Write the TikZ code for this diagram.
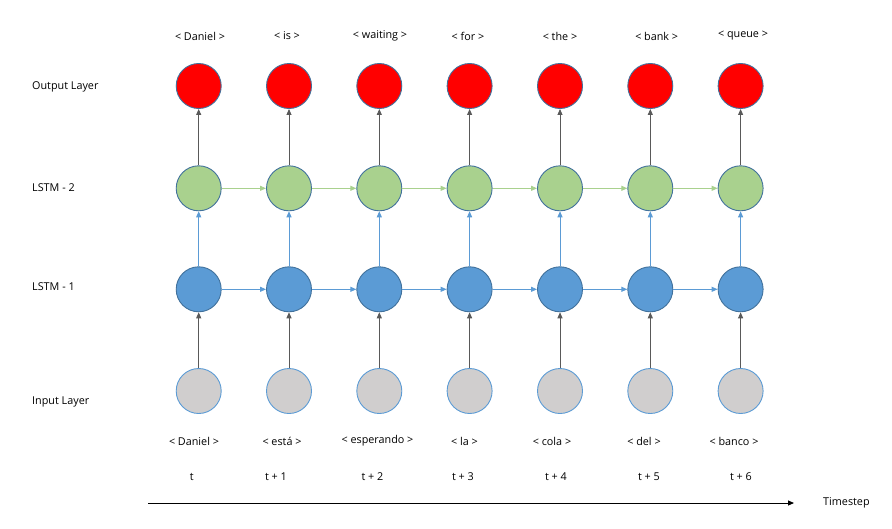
\documentclass[tikz,border=0pt]{standalone}
\usepackage{fontspec}
\setmainfont{Open Sans}
\usetikzlibrary{arrows.meta}
\definecolor{cred}{HTML}{FF0000}
\definecolor{cgreen}{HTML}{A9D18E}
\definecolor{cblue}{HTML}{5B9BD5}
\definecolor{cgray}{HTML}{D0CECE}
\definecolor{cedge}{HTML}{41719C}
\definecolor{cdark}{HTML}{595959}
\tikzset{
  unit/.style={circle, minimum size=45pt, inner sep=0pt, line width=0.9pt},
  outnode/.style={unit, draw=cedge, fill=cred},
  l2node/.style={unit, draw=cedge, fill=cgreen},
  l1node/.style={unit, draw=cedge, fill=cblue},
  innode/.style={unit, draw=cblue, fill=cgray},
  lbl/.style={font=\fontsize{10.8}{12}\selectfont, inner sep=0pt},
  side/.style={lbl, anchor=west},
  tip/.style={-{Triangle[length=6pt,width=5pt]}, line width=0.9pt},
  darkarrow/.style={tip, draw=cdark},
  bluearrow/.style={tip, draw=cblue},
  greenarrow/.style={tip, draw=cgreen},
}
\begin{document}
\begin{tikzpicture}[x=1pt,y=-1pt]
\useasboundingbox (0,0) rectangle (892,528);
\foreach \i/\x in {1/198.7, 2/289, 3/379.3, 4/469.6, 5/560, 6/650.3, 7/740.6}{
  \node[outnode] (o\i) at (\x,86) {};
  \node[l2node] (b\i) at (\x,188.3) {};
  \node[l1node] (a\i) at (\x,289.3) {};
  \node[innode] (in\i) at (\x,391) {};
  \draw[darkarrow] (in\i) -- (a\i);
  \draw[bluearrow] (a\i) -- (b\i);
  \draw[darkarrow] (b\i) -- (o\i);
}
\foreach \i/\j in {1/2,2/3,3/4,4/5,5/6,6/7}{
  \draw[greenarrow] (b\i) -- (b\j);
  \draw[bluearrow] (a\i) -- (a\j);
}
\foreach \i/\x/\txt in {1/200/{< Daniel >}, 2/287/{< is >}, 3/380/{< waiting >}, 4/468/{< for >}, 5/560/{< the >}, 6/656.7/{< bank >}, 7/743/{< queue >}}{
  \node[lbl] (top\i) at (\x,36) {\txt};
}
\foreach \i/\x/\txt in {1/194/{< Daniel >}, 2/282/{< está >}, 3/377.5/{< esperando >}, 4/464.5/{< la >}, 5/552/{< cola >}, 6/644/{< del >}, 7/734/{< banco >}}{
  \node[lbl] (bot\i) at (\x,441) {\txt};
}
\foreach \i/\x/\txt in {1/191.7/t, 2/276/{t + 1}, 3/372.5/{t + 2}, 4/463/{t + 3}, 5/556/{t + 4}, 6/649/{t + 5}, 7/741/{t + 6}}{
  \node[lbl] (ts\i) at (\x,477) {\txt};
}
\node[side] (lo) at (32,87) {Output Layer};
\node[side] (l2) at (32,188) {LSTM - 2};
\node[side] (l1) at (32,287) {LSTM - 1};
\node[side] (li) at (32,402) {Input Layer};
\coordinate (ts0) at (148,503);
\coordinate (ts1) at (794,503);
\draw[tip, draw=black] (ts0) -- (ts1);
\node[side] (tlab) at (823,503) {Timestep};
\end{tikzpicture}
\end{document}
